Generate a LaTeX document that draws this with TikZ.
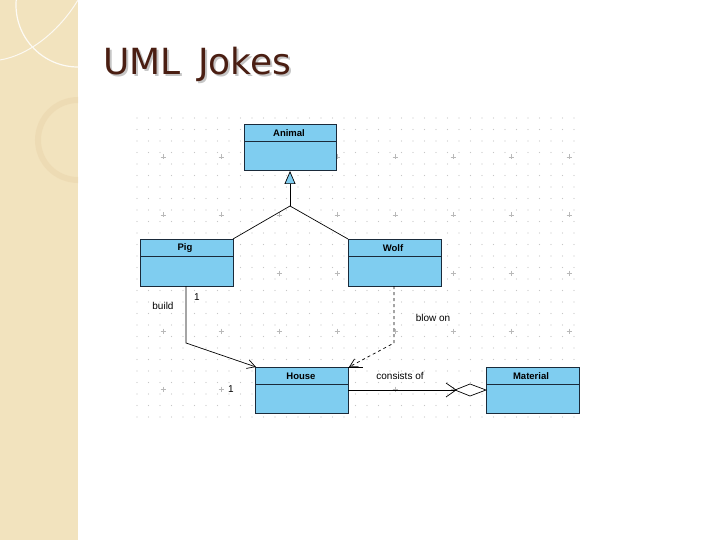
\documentclass[tikz,border=0pt]{standalone}
\usepackage{fontspec}
\setmainfont{DejaVu Sans}
\newfontfamily\arialf{Liberation Sans}
\usetikzlibrary{arrows.meta}
\definecolor{cls}{HTML}{7FCDF0}
\definecolor{brd}{HTML}{1A2A3A}
\definecolor{band}{HTML}{F2E3BE}
\definecolor{ttl}{HTML}{4A1E12}
\begin{document}
\begin{tikzpicture}[x=1pt,y=-1pt,
  cname/.style={font=\arialf\bfseries\fontsize{9.5}{10}\selectfont},
  lbl/.style={font=\arialf\fontsize{10}{11}\selectfont, inner sep=0pt},
  conn/.style={line width=0.7pt, black}]
\useasboundingbox (0,0) rectangle (720,540);
\fill[white] (0,0) rectangle (720,540);
% left band
\fill[band] (0,0) rectangle (78,540);
\draw[white, line width=0.8pt] (78,0) -- (78,540);
\begin{scope}
\clip (0,0) rectangle (78,540);
\draw[white!85!band, line width=1.2pt] (78,5) circle (62);
\draw[band!85!brown, line width=6pt, opacity=0.5] (78,140) circle (40);
\draw[white!80!band, line width=1pt] (0,60) .. controls (30,55) and (60,30) .. (78,0);
\end{scope}
% title
\node[anchor=base west, text=gray!45, font=\fontsize{36}{40}\selectfont, inner sep=0pt] (tshadow) at (105,77) {UML\, Jokes};
\node[anchor=base west, text=ttl, font=\fontsize{36}{40}\selectfont, inner sep=0pt] (title) at (103,75) {UML\, Jokes};
% grid
\foreach \y in {118,129.5,...,418} \foreach \x in {137,148.5,...,585} \fill[gray!45] (\x,\y) circle (0.55);
\foreach \y in {157,215,273,331,389} \foreach \x in {163,221,279,337,395,453,511,569}
  \draw[gray!55, line width=0.5pt] (\x-2.5,\y) -- (\x+2.5,\y) (\x,\y-2.5) -- (\x,\y+2.5);
% classes
\newcommand{\umlclass}[5]{%
  \fill[cls] (#2,#3) rectangle (#4,#5);
  \draw[brd, line width=0.8pt] (#2,#3) rectangle (#4,#5) (#2,#3+17) -- (#4,#3+17);
  \coordinate (#1) at ({(#2+#4)/2},{(#3+#5)/2});
}
\umlclass{animal}{244}{124}{336}{170}
\umlclass{pig}{140}{239}{233}{286}
\umlclass{wolf}{348}{239}{441}{286}
\umlclass{house}{255}{367}{348}{413}
\umlclass{material}{486}{367}{579}{413}
\node[cname] (nA) at (289,133) {Animal};
\node[cname] (nP) at (185,248) {Pig};
\node[cname] (nW) at (393,248) {Wolf};
\node[cname] (nH) at (301,376) {House};
\node[cname] (nM) at (531,376) {Material};
% generalization
\coordinate (gtip) at (290,171);
\coordinate (gj) at (290,206);
\draw[conn] (233,239) -- (gj) -- (348,239);
\draw[conn, -{Triangle[open, fill=cls, length=13pt, width=11pt]}] (gj) -- (gtip);
% build
\coordinate (b1) at (186,286);
\coordinate (b2) at (186,343);
\coordinate (b3) at (256,367);
\draw[conn, -{Straight Barb[length=8pt,width=9pt]}] (b1) -- (b2) -- (b3);
\node[lbl] (lbuild) at (163,306) {build};
\node[lbl] (l1a) at (197,297) {1};
\node[lbl] (l1b) at (231,389) {1};
% blow on
\coordinate (w1) at (394,286);
\coordinate (w2) at (394,343);
\coordinate (w3) at (349,367);
\draw[conn, dashed, -{Straight Barb[length=8pt,width=9pt]}] (w1) -- (w2) -- (w3);
\draw[line width=1.5pt] (348,367.5) -- (363,367.5);
\node[lbl] (lblow) at (433,318) {blow on};
% consists of
\coordinate (c1) at (348,390);
\coordinate (c2) at (455,390);
\draw[conn] (c1) -- (c2);
\draw[conn, fill=white] (455,390) -- (470,384) -- (486,390) -- (470,396) -- cycle;
\draw[conn] (446,383) -- (456,390) -- (446,397);
\node[lbl] (lcons) at (400,376) {consists of};
\end{tikzpicture}
\end{document}
